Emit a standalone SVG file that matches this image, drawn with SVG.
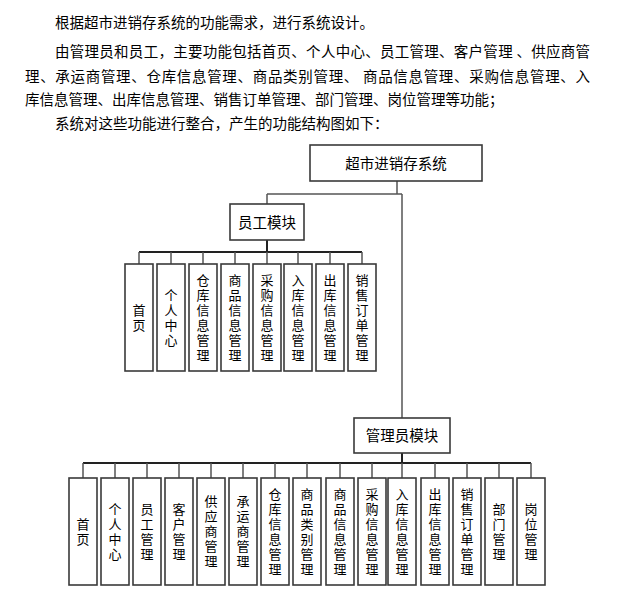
<svg xmlns="http://www.w3.org/2000/svg" width="617" height="600" viewBox="0 0 617 600">
<style>
.para{font-family:"Noto Sans CJK SC","Liberation Sans",sans-serif;font-size:14.5px;fill:#000}
.box{fill:#fff;stroke:#3a3a3a;stroke-width:1.6}
.lbl{font-family:"Noto Sans CJK SC","Liberation Sans",sans-serif;font-size:14.5px;fill:#000;text-anchor:middle}
.vl{font-family:"Noto Sans CJK SC","Liberation Sans",sans-serif;font-size:13px;fill:#000;text-anchor:middle;writing-mode:vertical-rl;letter-spacing:2px}
.ln{fill:none;stroke:#555;stroke-width:1.5}
.bus{fill:none;stroke:#222;stroke-width:2}
</style>
<rect x="0" y="0" width="617" height="600" fill="#fff"/>
<g id="intro">
<text class="para" x="55" y="28">根据超市进销存系统的功能需求，进行系统设计。</text>
<text class="para" x="55" y="57" textLength="535" lengthAdjust="spacing">由管理员和员工，主要功能包括首页、个人中心、员工管理、客户管理 、供应商管</text>
<text class="para" x="25" y="82" textLength="565" lengthAdjust="spacing" xml:space="preserve">理、承运商管理、仓库信息管理、商品类别管理、 商品信息管理、采购信息管理、入</text>
<text class="para" x="25" y="105">库信息管理、出库信息管理、销售订单管理、部门管理、岗位管理等功能；</text>
<text class="para" x="55" y="129">系统对这些功能进行整合，产生的功能结构图如下：</text>
</g>
<g id="connectors">
<path class="ln" d="M397,181 V194 M267,194 H402 M267,194 V204 M402,194 V418"/>
<path class="bus" d="M267,240 V252 M139,252 H362"/>
<path class="ln" d="M139,252 V264 M171,252 V264 M203,252 V264 M235,252 V264 M267,252 V264 M298,252 V264 M330,252 V264 M362,252 V264"/>
<path class="bus" d="M402,453 V463 M83,463 H531"/>
<path class="ln" d="M83,463 V478 M115,463 V478 M147,463 V478 M179,463 V478 M211,463 V478 M243,463 V478 M275,463 V478 M307,463 V478 M340,463 V478 M372,463 V478 M402,463 V478 M435,463 V478 M467,463 V478 M499,463 V478 M531,463 V478"/>
</g>
<g id="root"><rect class="box" x="310" y="145" width="172" height="36"/><text class="lbl" x="396" y="168.5">超市进销存系统</text></g>
<g id="emp"><rect class="box" x="230" y="204" width="74" height="36"/><text class="lbl" x="267" y="227.5">员工模块</text></g>
<g id="admin"><rect class="box" x="354" y="418" width="96" height="35"/><text class="lbl" x="402" y="441">管理员模块</text></g>

<g id="e1"><rect class="box" x="125" y="264" width="28" height="107"/><text class="vl" x="139" y="318.5">首页</text></g>
<g id="e2"><rect class="box" x="157" y="264" width="28" height="107"/><text class="vl" x="171" y="318.5">个人中心</text></g>
<g id="e3"><rect class="box" x="189" y="264" width="28" height="107"/><text class="vl" x="203" y="318.5">仓库信息管理</text></g>
<g id="e4"><rect class="box" x="221" y="264" width="28" height="107"/><text class="vl" x="235" y="318.5">商品信息管理</text></g>
<g id="e5"><rect class="box" x="253" y="264" width="28" height="107"/><text class="vl" x="267" y="318.5">采购信息管理</text></g>
<g id="e6"><rect class="box" x="284" y="264" width="28" height="107"/><text class="vl" x="298" y="318.5">入库信息管理</text></g>
<g id="e7"><rect class="box" x="316" y="264" width="28" height="107"/><text class="vl" x="330" y="318.5">出库信息管理</text></g>
<g id="e8"><rect class="box" x="348" y="264" width="28" height="107"/><text class="vl" x="362" y="318.5">销售订单管理</text></g>

<g id="a1"><rect class="box" x="69" y="478" width="28" height="107"/><text class="vl" x="83" y="532.5">首页</text></g>
<g id="a2"><rect class="box" x="101" y="478" width="28" height="107"/><text class="vl" x="115" y="532.5">个人中心</text></g>
<g id="a3"><rect class="box" x="133" y="478" width="28" height="107"/><text class="vl" x="147" y="532.5">员工管理</text></g>
<g id="a4"><rect class="box" x="165" y="478" width="28" height="107"/><text class="vl" x="179" y="532.5">客户管理</text></g>
<g id="a5"><rect class="box" x="197" y="478" width="28" height="107"/><text class="vl" x="211" y="532.5">供应商管理</text></g>
<g id="a6"><rect class="box" x="229" y="478" width="28" height="107"/><text class="vl" x="243" y="532.5">承运商管理</text></g>
<g id="a7"><rect class="box" x="261" y="478" width="28" height="107"/><text class="vl" x="275" y="532.5">仓库信息管理</text></g>
<g id="a8"><rect class="box" x="293" y="478" width="28" height="107"/><text class="vl" x="307" y="532.5">商品类别管理</text></g>
<g id="a9"><rect class="box" x="326" y="478" width="28" height="107"/><text class="vl" x="340" y="532.5">商品信息管理</text></g>
<g id="a10"><rect class="box" x="358" y="478" width="28" height="107"/><text class="vl" x="372" y="532.5">采购信息管理</text></g>
<g id="a11"><rect class="box" x="388" y="478" width="28" height="107"/><text class="vl" x="402" y="532.5">入库信息管理</text></g>
<g id="a12"><rect class="box" x="421" y="478" width="28" height="107"/><text class="vl" x="435" y="532.5">出库信息管理</text></g>
<g id="a13"><rect class="box" x="453" y="478" width="28" height="107"/><text class="vl" x="467" y="532.5">销售订单管理</text></g>
<g id="a14"><rect class="box" x="485" y="478" width="28" height="107"/><text class="vl" x="499" y="532.5">部门管理</text></g>
<g id="a15"><rect class="box" x="517" y="478" width="28" height="107"/><text class="vl" x="531" y="532.5">岗位管理</text></g>
</svg>
